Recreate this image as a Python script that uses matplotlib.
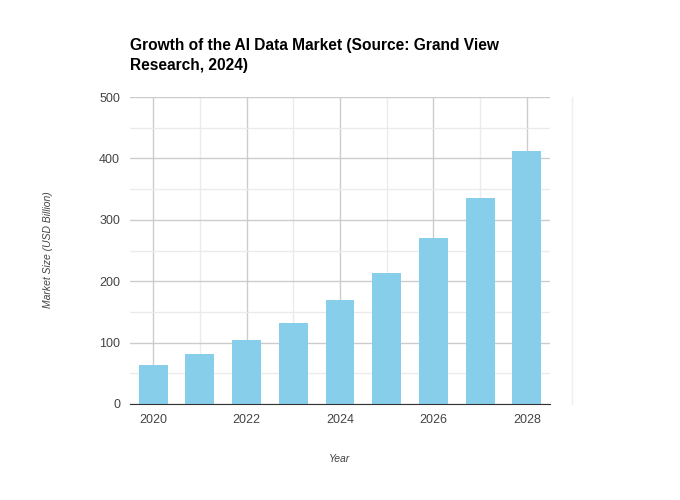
import matplotlib
matplotlib.use("Agg")
import matplotlib.pyplot as plt
from matplotlib.ticker import MultipleLocator

plt.rcParams["font.family"] = ["Liberation Sans", "DejaVu Sans"]

years = [2020, 2021, 2022, 2023, 2024, 2025, 2026, 2027, 2028]
market_size = [63, 81, 104, 132, 169, 213, 270, 335, 412]

fig = plt.figure(figsize=(6.8, 5), dpi=100)
ax = fig.add_axes([0.191, 0.192, 0.618, 0.614])

ax.bar(years, market_size, width=0.62, color="#87ceeb", zorder=3)

ax.set_xlim(2019.5, 2028.5)
ax.set_ylim(0, 500)
ax.xaxis.set_major_locator(MultipleLocator(2))
ax.xaxis.set_minor_locator(MultipleLocator(1))
ax.yaxis.set_major_locator(MultipleLocator(100))
ax.yaxis.set_minor_locator(MultipleLocator(50))

ax.grid(which="major", color="#cccccc", linewidth=1, zorder=0)
ax.grid(which="minor", color="#ebebeb", linewidth=1, zorder=0)
ax.tick_params(which="both", length=0, labelsize=9, colors="#444444", pad=7)

for side in ["top", "right", "left"]:
    ax.spines[side].set_visible(False)
ax.spines["bottom"].set_color("#333333")
ax.spines["bottom"].set_zorder(4)

# faint line at the right side
fig.add_artist(plt.Line2D([572 / 680, 572 / 680], [0.192, 0.806],
                          color="#eeeeee", linewidth=1))

fig.text(130 / 680, 1 - 38 / 500,
         "Growth of the AI Data Market (Source: Grand View\nResearch, 2024)",
         fontsize=11.2, fontweight="bold", color="black", va="top", ha="left",
         linespacing=1.45)
ax.set_xlabel("Year", fontsize=7.5, style="italic", color="#444444", labelpad=20)
fig.text(48 / 680, 0.5, "Market Size (USD Billion)", fontsize=7.5,
         style="italic", color="#444444", rotation=90, va="center", ha="center")

fig.savefig("out.png", dpi=100)
